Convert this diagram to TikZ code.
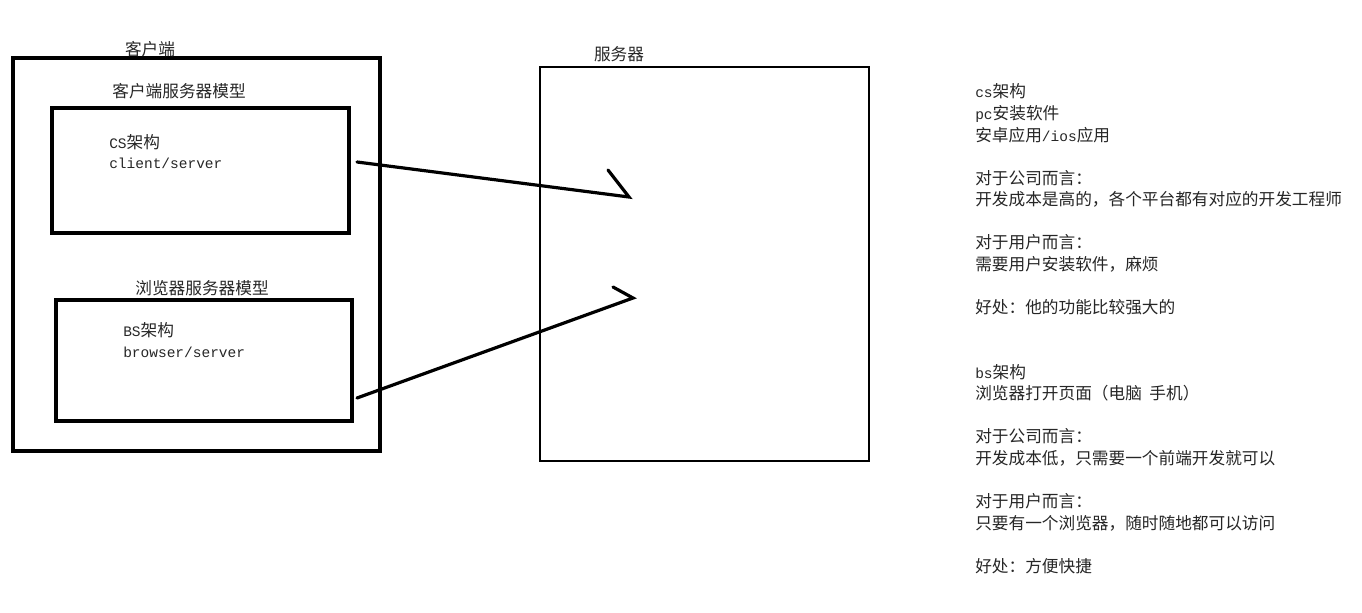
\documentclass[tikz,border=0pt]{standalone}
\usepackage{fontspec}
\setmainfont{Noto Sans CJK SC}
\newfontfamily\latfont{Liberation Mono}[Scale=0.87]
\newcommand\lat[1]{{\latfont #1}}

\tikzset{
    box/.style 2 args={draw, line width=2.3pt, inner sep=0pt,
        minimum width=#1*0.75pt, minimum height=#2*0.75pt},
    txt/.style={inner sep=0pt, text=black!85,
        font=\fontsize{12.5pt}{16pt}\selectfont},
    stroke/.style={line width=2.4pt, line cap=round}
}

\begin{document}
\begin{tikzpicture}[x=0.75pt, y=-0.75pt]
    \useasboundingbox (0,0) rectangle (1362,613);
    % client side
    \node[box={367}{393}] (client) at (196.5,254.5) {};
    \node[txt] (client title) at (150,49) {客户端};
    \node[box={297}{125}] (cs) at (200.5,170.5) {};
    \node[txt] (cs title) at (179,91) {客户端服务器模型};
    \node[txt, anchor=base west] (cs name) at (109,148) {\lat{CS}架构};
    \node[txt, anchor=base west] (cs full) at (109,168) {\lat{client/server}};
    \node[box={296}{121}] (bs) at (204,360.5) {};
    \node[txt] (bs title) at (202,288) {浏览器服务器模型};
    \node[txt, anchor=base west] (bs name) at (123,336) {\lat{BS}架构};
    \node[txt, anchor=base west] (bs full) at (123,357) {\lat{browser/server}};
    % server side
    \node[box={329}{394}, line width=2.2pt] (server) at (704.5,264) {};
    \node[txt] (server title) at (619,54) {服务器};
    % hand drawn arrows
    \coordinate (cs tail) at (357,162);
    \coordinate (cs tip) at (629,197);
    \coordinate (cs barb) at (608,170);
    \draw[stroke] (cs tail) -- (cs tip) -- (cs barb);
    \coordinate (bs tail) at (357,398);
    \coordinate (bs tip) at (633,298);
    \coordinate (bs barb) at (613,287);
    \draw[stroke] (bs tail) -- (bs tip) -- (bs barb);
    % notes
    \foreach \n/\t in {0/{\lat{cs}架构}, 1/{\lat{pc}安装软件}, 2/{安卓应用\lat{/ios}应用},
            4/{对于公司而言：}, 5/{开发成本是高的，各个平台都有对应的开发工程师},
            7/{对于用户而言：}, 8/{需要用户安装软件，麻烦},
            10/{好处：他的功能比较强大的},
            13/{\lat{bs}架构}, 14/{浏览器打开页面（电脑\hspace{0.45em}手机）},
            16/{对于公司而言：}, 17/{开发成本低，只需要一个前端开发就可以},
            19/{对于用户而言：}, 20/{只要有一个浏览器，随时随地都可以访问},
            22/{好处：方便快捷}}
        \node[txt, anchor=base west] (note\n) at (975,98+21.56*\n) {\t};
\end{tikzpicture}
\end{document}
